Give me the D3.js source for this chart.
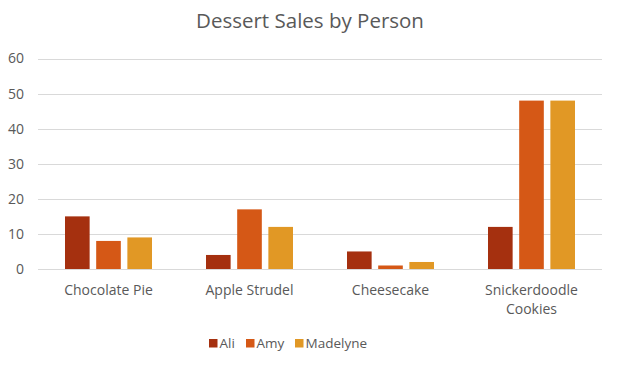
<!DOCTYPE html>
<html><head><meta charset="utf-8">
<script src="https://cdn.jsdelivr.net/npm/d3@7"></script>
<style>body{margin:0;background:#fff;}svg{display:block;font-family:"Open Sans","Liberation Sans",sans-serif;}</style>
</head><body>
<svg id="c" width="619" height="366"></svg>
<script>
const categories = [["Chocolate Pie"], ["Apple Strudel"], ["Cheesecake"], ["Snickerdoodle", "Cookies"]];
const seriesNames = ["Ali", "Amy", "Madelyne"];
const ali = [15, 4, 5, 12];
const amy = [8, 17, 1, 48];
const madelyne = [9, 12, 2, 48];
const colors = ["#A5300F", "#D55816", "#E19825"];
const yTicks = [0, 10, 20, 30, 40, 50, 60];
const title = "Dessert Sales by Person";

const values = [ali, amy, madelyne];
const svg = d3.select("#c");
const plotL = 38, plotR = 602, plotT = 58.5, plotB = 269;
const catIdx = categories.map((d, i) => i);
const x0 = d3.scaleBand().domain(catIdx).range([plotL, plotR]).padding(0);
const groupW = 87;
const x1 = d3.scaleBand().domain(seriesNames)
  .range([(x0.bandwidth() - groupW) / 2, (x0.bandwidth() + groupW) / 2])
  .paddingInner(0.21).paddingOuter(0);
const y = d3.scaleLinear().domain([0, 60]).range([plotB, plotT]);

svg.append("text").attr("x", 310).attr("y", 28).attr("text-anchor", "middle")
  .attr("font-size", 20.5).attr("fill", "#595959").text(title);

// gridlines
svg.append("g").selectAll("line").data(yTicks).join("line")
  .attr("x1", plotL).attr("x2", plotR)
  .attr("y1", d => Math.round(y(d)) + 0.5).attr("y2", d => Math.round(y(d)) + 0.5)
  .attr("stroke", "#d9d9d9").attr("stroke-width", 1);

// y axis labels
const yAxis = d3.axisLeft(y).tickValues(yTicks).tickSize(0).tickPadding(0);
const gy = svg.append("g").attr("transform", `translate(24,0)`).call(yAxis);
gy.select(".domain").remove();
gy.selectAll("text").attr("font-size", 14).attr("fill", "#595959")
  .attr("font-family", '"Open Sans","Liberation Sans",sans-serif');

// bars
const g = svg.append("g");
catIdx.forEach(ci => {
  seriesNames.forEach((s, si) => {
    g.append("rect")
      .attr("x", x0(ci) + x1(s))
      .attr("width", x1.bandwidth())
      .attr("y", y(values[si][ci]))
      .attr("height", plotB - y(values[si][ci]))
      .attr("fill", colors[si]);
  });
});

// category labels
const gx = svg.append("g");
catIdx.forEach(ci => {
  const t = gx.append("text").attr("x", x0(ci) + x0.bandwidth() / 2).attr("y", 295)
    .attr("text-anchor", "middle").attr("font-size", 14).attr("fill", "#595959");
  categories[ci].forEach((line, li) => {
    t.append("tspan").attr("x", x0(ci) + x0.bandwidth() / 2).attr("dy", li === 0 ? 0 : 19).text(line);
  });
});

// legend
const legendX = [209, 246, 295];
const lg = svg.append("g");
seriesNames.forEach((s, i) => {
  lg.append("rect").attr("x", legendX[i]).attr("y", 339).attr("width", 8.5).attr("height", 8.5).attr("fill", colors[i]);
  lg.append("text").attr("x", legendX[i] + 10.5).attr("y", 348).attr("font-size", 13.5).attr("fill", "#595959").text(s);
});
</script>
</body></html>
